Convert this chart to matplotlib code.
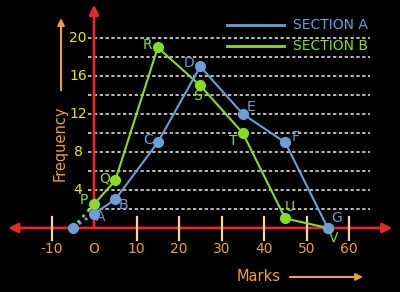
import matplotlib
matplotlib.use('Agg')
import matplotlib.pyplot as plt

# ── Data: frequency polygon of marks, two sections ──
marks = [-5, 0, 5, 15, 25, 35, 45, 55]
freq_a = [0, 1.5, 3, 9, 17, 12, 9, 0]
freq_b = [0, 2.5, 5, 19, 15, 10, 1, 0]
names_a = ['', 'A', 'B', 'C', 'D', 'E', 'F', 'G']
names_b = ['', 'P', 'Q', 'R', 'S', 'T', 'U', 'V']
x_ticks = [-10, 10, 20, 30, 40, 50, 60]
y_ticks = [4, 8, 12, 16, 20]
grid_y = [2, 4, 6, 8, 10, 12, 14, 16, 18, 20]

# label offsets in pixels (dx, dy)
off_a = [None, (7, -3), (8, -6), (-10, 2), (-11, 3), (8, 7), (10, 5), (9, 10)]
off_b = [None, (-10, 4), (-11, 2), (-10, 2), (-3, -11), (-10, -8), (5, 11), (6, -10)]

RED = '#e8262a'
ORANGE = '#f0a030'
YELLOW = '#e8e800'
BLUE = '#6a9fd8'
GREEN = '#88dd22'
WHEAT = '#f5d5a0'

fig = plt.figure(figsize=(4.0, 2.92), dpi=100)
fig.patch.set_facecolor('black')
ax = fig.add_axes([0, 0, 1, 1])
ax.set_facecolor('black')
ax.set_xlim(-22.12, 72.0)
ax.set_ylim(-6.74, 24.0)
ax.axis('off')

# dashed grid
for g in grid_y:
    ax.plot([-1.4, 65], [g, g], color='#d8d8d8', lw=1.2, ls=(0, (2, 1.5)), zorder=1)

# axes with arrows
ax.annotate('', xy=(70.2, 0), xytext=(-20.2, 0),
            arrowprops=dict(arrowstyle='<|-|>', color=RED, lw=2, mutation_scale=14,
                            shrinkA=0, shrinkB=0), zorder=2)
ax.annotate('', xy=(0, 23.5), xytext=(0, 0),
            arrowprops=dict(arrowstyle='-|>', color=RED, lw=2, mutation_scale=14,
                            shrinkA=0, shrinkB=0), zorder=2)

# x ticks
for t in x_ticks:
    ax.plot([t, t], [1.16, -1.26], color=WHEAT, lw=1.6, zorder=3)
    ax.text(t, -2.2, str(t), color=ORANGE, fontsize=10, ha='center', va='center')
ax.text(0, -2.2, 'O', color=ORANGE, fontsize=10, ha='center', va='center')

# y tick labels
for t in y_ticks:
    ax.text(-3.76, t, str(t), color=YELLOW, fontsize=10, ha='center', va='center')

# axis titles with arrows
ax.text(-7.9, 8.95, 'Frequency', color=ORANGE, fontsize=10.5, rotation=90,
        ha='center', va='center')
ax.annotate('', xy=(-7.76, 22.1), xytext=(-7.76, 14.5),
            arrowprops=dict(arrowstyle='-|>', color=ORANGE, lw=1.5, mutation_scale=10,
                            shrinkA=0, shrinkB=0))
ax.text(38.8, -5.16, 'Marks', color=ORANGE, fontsize=10.5, ha='center', va='center')
ax.annotate('', xy=(63.3, -5.16), xytext=(46.1, -5.16),
            arrowprops=dict(arrowstyle='-|>', color=ORANGE, lw=1.5, mutation_scale=10,
                            shrinkA=0, shrinkB=0))

# polygons: dotted first segment, solid afterwards
ax.plot(marks[:2], freq_b[:2], color=GREEN, lw=2, ls=':', zorder=4)
ax.plot(marks[1:], freq_b[1:], color=GREEN, lw=1.5, marker='o', ms=7, zorder=4)
ax.plot(marks[:2], freq_a[:2], color=BLUE, lw=2, ls=':', zorder=5)
ax.plot(marks[1:], freq_a[1:], color=BLUE, lw=1.5, marker='o', ms=7, zorder=5)
ax.plot(marks[0], freq_a[0], color=BLUE, marker='o', ms=7, zorder=5)

for x, y, n, o in zip(marks, freq_a, names_a, off_a):
    if n:
        ax.annotate(n, (x, y), xytext=o, textcoords='offset pixels', color=BLUE,
                    fontsize=10, ha='center', va='center', zorder=6)
for x, y, n, o in zip(marks, freq_b, names_b, off_b):
    if n:
        ax.annotate(n, (x, y), xytext=o, textcoords='offset pixels', color=GREEN,
                    fontsize=10, ha='center', va='center', zorder=6)

# legend drawn by hand
ax.plot([31.3, 44.7], [21.37, 21.37], color=BLUE, lw=2)
ax.text(46.8, 21.37, 'SECTION A', color=BLUE, fontsize=10, ha='left', va='center')
ax.plot([31.3, 44.7], [19.16, 19.16], color=GREEN, lw=2)
ax.text(46.8, 19.16, 'SECTION B', color=GREEN, fontsize=10, ha='left', va='center')

fig.savefig('out.png', dpi=100, facecolor='black')
